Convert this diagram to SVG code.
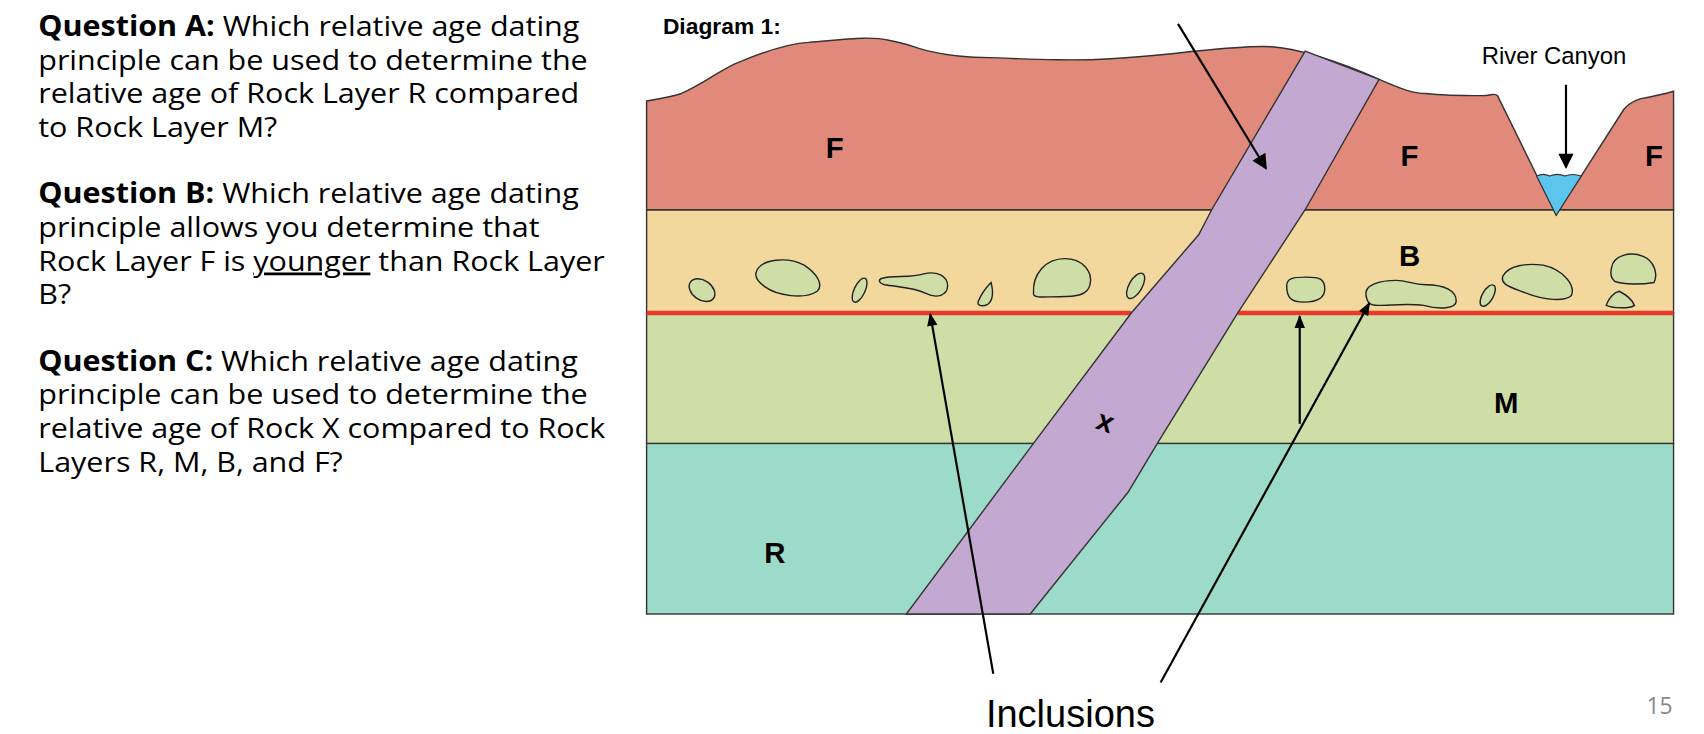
<svg xmlns="http://www.w3.org/2000/svg" width="1704" height="734" viewBox="0 0 1704 734">
<defs>
<style>
.q{font-family:"Open Sans","Noto Sans",sans-serif;font-size:25.5px;fill:#000}
.lb{font-family:"Liberation Sans",Arial,sans-serif;font-weight:bold;font-size:27px;fill:#000;text-anchor:middle}
.ln{stroke:#333;stroke-width:1.3}
.peb{fill:#cfdea7;stroke:#222;stroke-width:1.3}
.ar{stroke:#000;stroke-width:2;fill:none}
</style>
<marker id="ah" viewBox="0 0 10 10" refX="9" refY="5" markerWidth="14" markerHeight="12" orient="auto" markerUnits="userSpaceOnUse"><path d="M0,1 L10,5 L0,9 z" fill="#000"/></marker>
<marker id="ahb" viewBox="0 0 10 10" refX="9" refY="5" markerWidth="20" markerHeight="14" orient="auto" markerUnits="userSpaceOnUse"><path d="M0,0 L10,5 L0,10 z" fill="#000"/></marker>
</defs>
<rect width="1704" height="734" fill="#fff"/>
<g transform="scale(1.08673)">
<g id="questions" transform="scale(1.1,1)">
<text class="q" x="32" y="33"><tspan font-weight="bold">Question A:</tspan>  Which relative age dating</text>
<text class="q" x="32" y="64">principle can be used to determine the</text>
<text class="q" x="32" y="95">relative age of Rock Layer R compared</text>
<text class="q" x="32" y="126">to Rock Layer M?</text>
<text class="q" x="32" y="187"><tspan font-weight="bold">Question B:</tspan>  Which relative age dating</text>
<text class="q" x="32" y="218">principle allows you determine that</text>
<text class="q" x="32" y="249">Rock Layer F is <tspan text-decoration="underline">younger</tspan> than Rock Layer</text>
<text class="q" x="32" y="280">B?</text>
<text class="q" x="32" y="341"><tspan font-weight="bold">Question C:</tspan>  Which relative age dating</text>
<text class="q" x="32" y="372">principle can be used to determine the</text>
<text class="q" x="32" y="403">relative age of Rock X compared to Rock</text>
<text class="q" x="32" y="434">Layers R, M, B, and F?</text>
</g>
<text x="610" y="31" font-family="Liberation Sans,Arial,sans-serif" font-weight="bold" font-size="21">Diagram 1:</text>
<g id="layerR"><rect class="ln" x="595" y="408" width="945" height="157" fill="#9cdbc9"/></g>
<g id="layerM"><rect class="ln" x="595" y="288" width="945" height="120" fill="#cfdea7"/></g>
<g id="layerB"><rect class="ln" x="595" y="193" width="945" height="95" fill="#f2d89c"/></g>
<g id="layerF"><path class="ln" fill="#e18a7b" d="M595,193 L595,93 C610,90 615,90 627,86 C650,76 665,62 683,56 C705,47 725,40 744,39 C780,36 800,33 818,37 C835,40 845,45 855,47 C880,53 900,53 911,53 C960,55 990,56 1022,54 C1060,52 1080,49 1102,47 C1130,44 1150,42 1170,43 C1190,44 1230,55 1269,73 C1290,82 1300,86 1312,86 C1330,88 1350,88 1364,88 C1372,88 1376,85 1378,88 L1432,198 L1494,101 C1498,96 1503,93 1509,91 C1525,88 1533,86 1540,84 L1540,193 Z"/>
<path d="M1414,162 Q1420,159 1426,162 Q1433,159 1440,162 Q1447,159 1455,162 L1432,198 Z" fill="#5bc5ee" stroke="#333" stroke-width="1"/>
</g>
<g id="inclusions">
<ellipse class="peb" cx="646" cy="267" rx="13" ry="9" transform="rotate(35 646 267)"/>
<path class="peb" d="M696,250 C700,238 725,236 740,244 C752,252 758,262 752,268 C740,276 715,272 704,264 C697,259 694,255 696,250 Z"/>
<ellipse class="peb" cx="791" cy="267" rx="5" ry="12" transform="rotate(25 791 267)"/>
<path class="peb" d="M812,256 C822,253 838,256 850,252 C862,249 872,254 872,263 C872,272 862,275 852,270 C840,264 825,264 814,262 C808,260 808,257 812,256 Z"/>
<path class="peb" d="M900,278 C903,270 908,264 912,260 C914,268 914,276 909,280 C905,282 899,282 900,278 Z"/>
<path class="peb" d="M951,270 C950,252 962,238 980,238 C996,238 1006,250 1003,262 C1001,272 990,273 975,273 C962,273 951,275 951,270 Z"/>
<ellipse class="peb" cx="1045" cy="263" rx="6" ry="13" transform="rotate(30 1045 263)"/>
<path class="peb" d="M1184,263 C1184,256 1190,255 1202,255 C1215,255 1219,257 1219,266 C1219,275 1212,278 1200,278 C1188,278 1184,274 1184,263 Z"/>
<path class="peb" d="M1257,272 C1255,262 1270,258 1285,258 C1295,258 1300,262 1312,262 C1330,262 1340,268 1340,277 C1340,284 1325,285 1310,281 C1295,279 1280,281 1268,281 C1260,281 1258,278 1257,272 Z"/>
<ellipse class="peb" cx="1369" cy="272" rx="5" ry="11" transform="rotate(30 1369 272)"/>
<path class="peb" d="M1383,254 C1388,244 1405,242 1420,244 C1438,248 1450,262 1446,272 C1440,278 1420,276 1405,270 C1390,264 1380,262 1383,254 Z"/>
<path class="peb" d="M1483,246 C1485,235 1500,231 1512,236 C1522,240 1526,252 1522,260 C1510,262 1495,262 1486,259 C1482,256 1482,250 1483,246 Z"/>
<path class="peb" d="M1478,281 C1480,275 1485,269 1490,268 C1496,271 1502,276 1504,281 C1500,284 1485,284 1478,281 Z"/>
</g>
<line x1="595" y1="288" x2="1041" y2="288" stroke="#e8392a" stroke-width="4"/>
<line x1="1139" y1="288" x2="1540" y2="288" stroke="#e8392a" stroke-width="4"/>
<g id="dikeX"><path class="ln" fill="#c3a8d1" d="M1201,47 L1269,73 L1201,193 L1139,288 L1065,408 L1038,453 L948,565 L834,565 L951,408 L1041,288 L1103,216 L1115,193 Z"/></g>
<g id="labels">
<text class="lb" x="768" y="145">F</text>
<text class="lb" x="1297" y="153">F</text>
<text class="lb" x="1522" y="153">F</text>
<text class="lb" x="1297" y="245">B</text>
<text class="lb" x="1386" y="380">M</text>
<text class="lb" x="713" y="518">R</text>
<text class="lb" x="1018" y="397" font-size="32" transform="rotate(20 1018 386)">x</text>
<text x="1430" y="59" text-anchor="middle" font-family="Liberation Sans,Arial,sans-serif" font-size="22">River Canyon</text>
<text x="985" y="669" text-anchor="middle" font-family="Liberation Sans,Arial,sans-serif" font-size="35">Inclusions</text>
<text x="1527" y="657" text-anchor="middle" font-family="Open Sans,sans-serif" font-size="21" fill="#888">15</text>
</g>
<g id="connectors">
<line class="ar" x1="1084" y1="22" x2="1165" y2="155" marker-end="url(#ahb)"/>
<line class="ar" x1="1441" y1="78" x2="1441" y2="154" marker-end="url(#ahb)"/>
<line class="ar" x1="914" y1="620" x2="856" y2="289" marker-end="url(#ah)"/>
<line class="ar" x1="1196" y1="390" x2="1196" y2="291" marker-end="url(#ah)"/>
<line class="ar" x1="1068" y1="628" x2="1260" y2="279" marker-end="url(#ah)"/>
</g>
</g>
</svg>
